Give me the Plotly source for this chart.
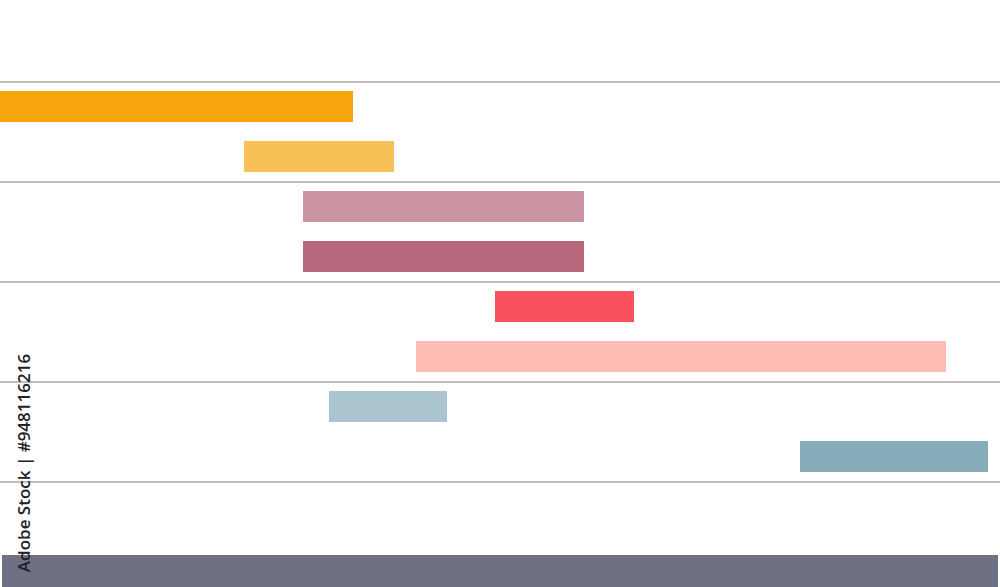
import plotly.graph_objects as go

# Task bars (x in timeline units, 0-100)
tasks = ['Task 1', 'Task 2', 'Task 3', 'Task 4', 'Task 5', 'Task 6', 'Task 7', 'Task 8']
rows = [1, 2, 3, 4, 5, 6, 7, 8]
starts = [0.0, 24.4, 30.3, 30.3, 49.5, 41.6, 32.9, 80.0]
ends = [35.3, 39.4, 58.4, 58.4, 63.4, 94.6, 44.7, 98.8]
colors = ['#F7A50C', '#F8C158', '#CC93A2', '#B8677D', '#F9525D', '#FEBCB5', '#AAC5CF', '#87ADBB']

# Timeline band at the bottom
band_start = [0.2]
band_end = [99.8]
band_row = [10.3]

# Separator lines between every two rows
grid_rows = [0.5, 2.5, 4.5, 6.5, 8.5]

fig = go.Figure()

fig.add_trace(go.Bar(
    y=rows, x=[e - s for s, e in zip(starts, ends)], base=starts,
    orientation='h', width=0.62,
    marker=dict(color=colors, line=dict(width=0)),
    text=tasks, textposition='none', hoverinfo='text+x',
))

fig.add_trace(go.Bar(
    y=band_row, x=[e - s for s, e in zip(band_start, band_end)], base=band_start,
    orientation='h', width=0.66,
    marker=dict(color='#6E7183', line=dict(width=0)),
    hoverinfo='skip',
))

fig.update_layout(
    width=1000, height=587,
    margin=dict(l=0, r=0, t=0, b=0),
    paper_bgcolor='white', plot_bgcolor='white',
    showlegend=False,
    barmode='overlay',
    xaxis=dict(range=[0, 100], showgrid=False, zeroline=False,
               showticklabels=False, fixedrange=True),
    yaxis=dict(range=[10.61, -1.13], tickvals=grid_rows, showgrid=True,
               gridcolor='#C6BCB8', gridwidth=1.5, zeroline=False,
               showticklabels=False, ticks='', fixedrange=True),
)

fig.add_annotation(
    text='Adobe Stock | #948116216', textangle=-90,
    xref='paper', yref='paper', x=0.023, y=0.211,
    xanchor='center', yanchor='middle',
    showarrow=False,
    font=dict(family='Open Sans', size=17, weight=600, color='#222222'),
)

# drop the page's default body margin so the figure sits at the window corner
fig.write_html('out.html', config={'displayModeBar': False},
               post_script="document.body.style.margin='0';")
